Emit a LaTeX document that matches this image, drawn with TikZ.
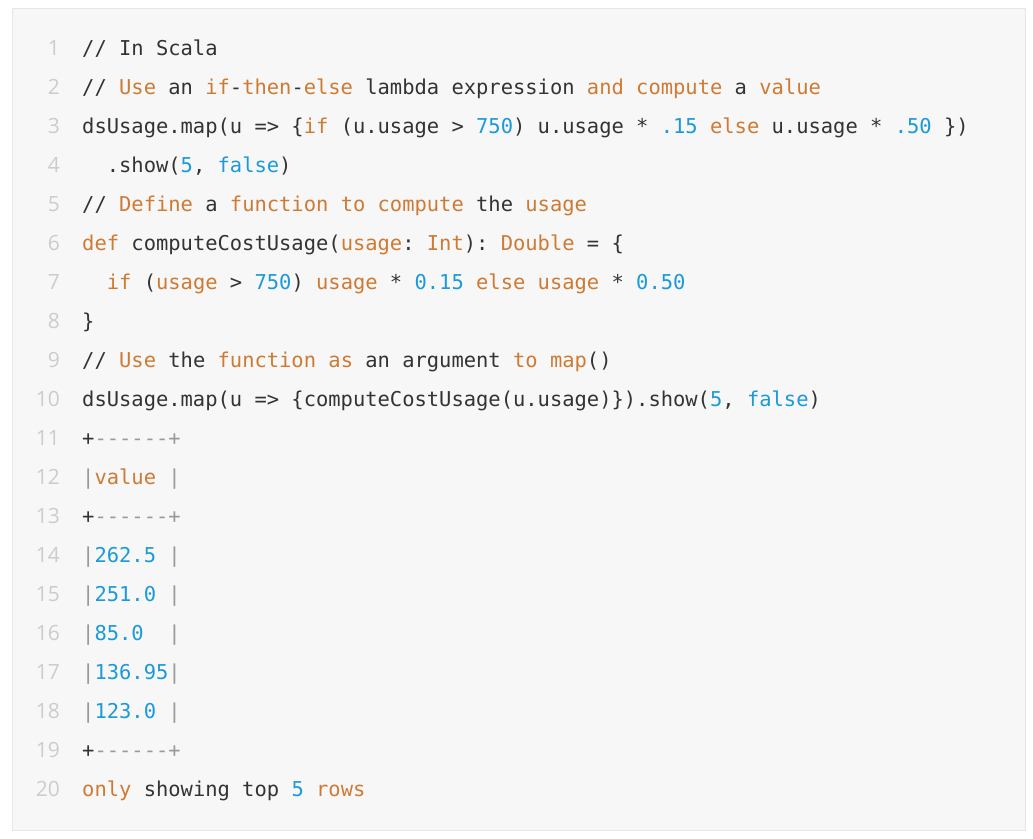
\documentclass[tikz,border=0pt]{standalone}
\usepackage{fontspec}
\setmonofont{DejaVu Sans Mono}
\newfontfamily\numfont{Open Sans}
\definecolor{bgc}{HTML}{F7F7F7}
\definecolor{brd}{HTML}{E6E6E6}
\definecolor{txt}{HTML}{333333}
\definecolor{org}{HTML}{CF7A33}
\definecolor{blu}{HTML}{1A9AD8}
\definecolor{gry}{HTML}{999999}
\definecolor{lnum}{HTML}{CCCCCC}
\newcommand\Or[1]{\textcolor{org}{#1}}
\newcommand\Bl[1]{\textcolor{blu}{#1}}
\newcommand\Gr[1]{\textcolor{gry}{#1}}
\begin{document}
\begin{tikzpicture}[x=1pt,y=-1pt,
  codeln/.style={anchor=base west,inner sep=0,font=\ttfamily\fontsize{20.45}{22}\selectfont,text=txt},
  numln/.style={anchor=base east,inner sep=0,font=\numfont\fontsize{21}{22}\selectfont,text=lnum}]
\useasboundingbox (0,0) rectangle (1033,838);
\fill[white] (0,0) rectangle (1033,838);
\draw[brd,fill=bgc] (12.5,8.5) rectangle (1025.5,830.5);
\foreach \i/\t in {
1/{// In Scala},
2/{// \Or{Use} an \Or{if}-\Or{then}-\Or{else} lambda expression \Or{and} \Or{compute} a \Or{value}},
3/{dsUsage.map(u => \{\Or{if} (u.usage > \Bl{750}) u.usage * \Bl{.15} \Or{else} u.usage * \Bl{.50} \})},
4/{~~.show(\Bl{5}, \Bl{false})},
5/{// \Or{Define} a \Or{function} \Or{to} \Or{compute} the \Or{usage}},
6/{\Or{def} computeCostUsage(\Or{usage}: \Or{Int}): \Or{Double} = \{},
7/{~~\Or{if} (\Or{usage} > \Bl{750}) \Or{usage} * \Bl{0.15} \Or{else} \Or{usage} * \Bl{0.50}},
8/{\}},
9/{// \Or{Use} the \Or{function} \Or{as} an argument \Or{to} \Or{map}()},
10/{dsUsage.map(u => \{computeCostUsage(u.usage)\}).show(\Bl{5}, \Bl{false})},
11/{+\Gr{------+}},
12/{\Gr{|}\Or{value}~\Gr{|}},
13/{+\Gr{------+}},
14/{\Gr{|}\Bl{262.5}~\Gr{|}},
15/{\Gr{|}\Bl{251.0}~\Gr{|}},
16/{\Gr{|}\Bl{85.0}~~\Gr{|}},
17/{\Gr{|}\Bl{136.95}\Gr{|}},
18/{\Gr{|}\Bl{123.0}~\Gr{|}},
19/{+\Gr{------+}},
20/{\Or{only} showing top \Bl{5} \Or{rows}}}{
  \node[numln] (n\i) at (60,{55+39.05*(\i-1)}) {\i};
  \node[codeln] (c\i) at (82,{55+39.05*(\i-1)}) {\t};
}
\end{tikzpicture}
\end{document}
